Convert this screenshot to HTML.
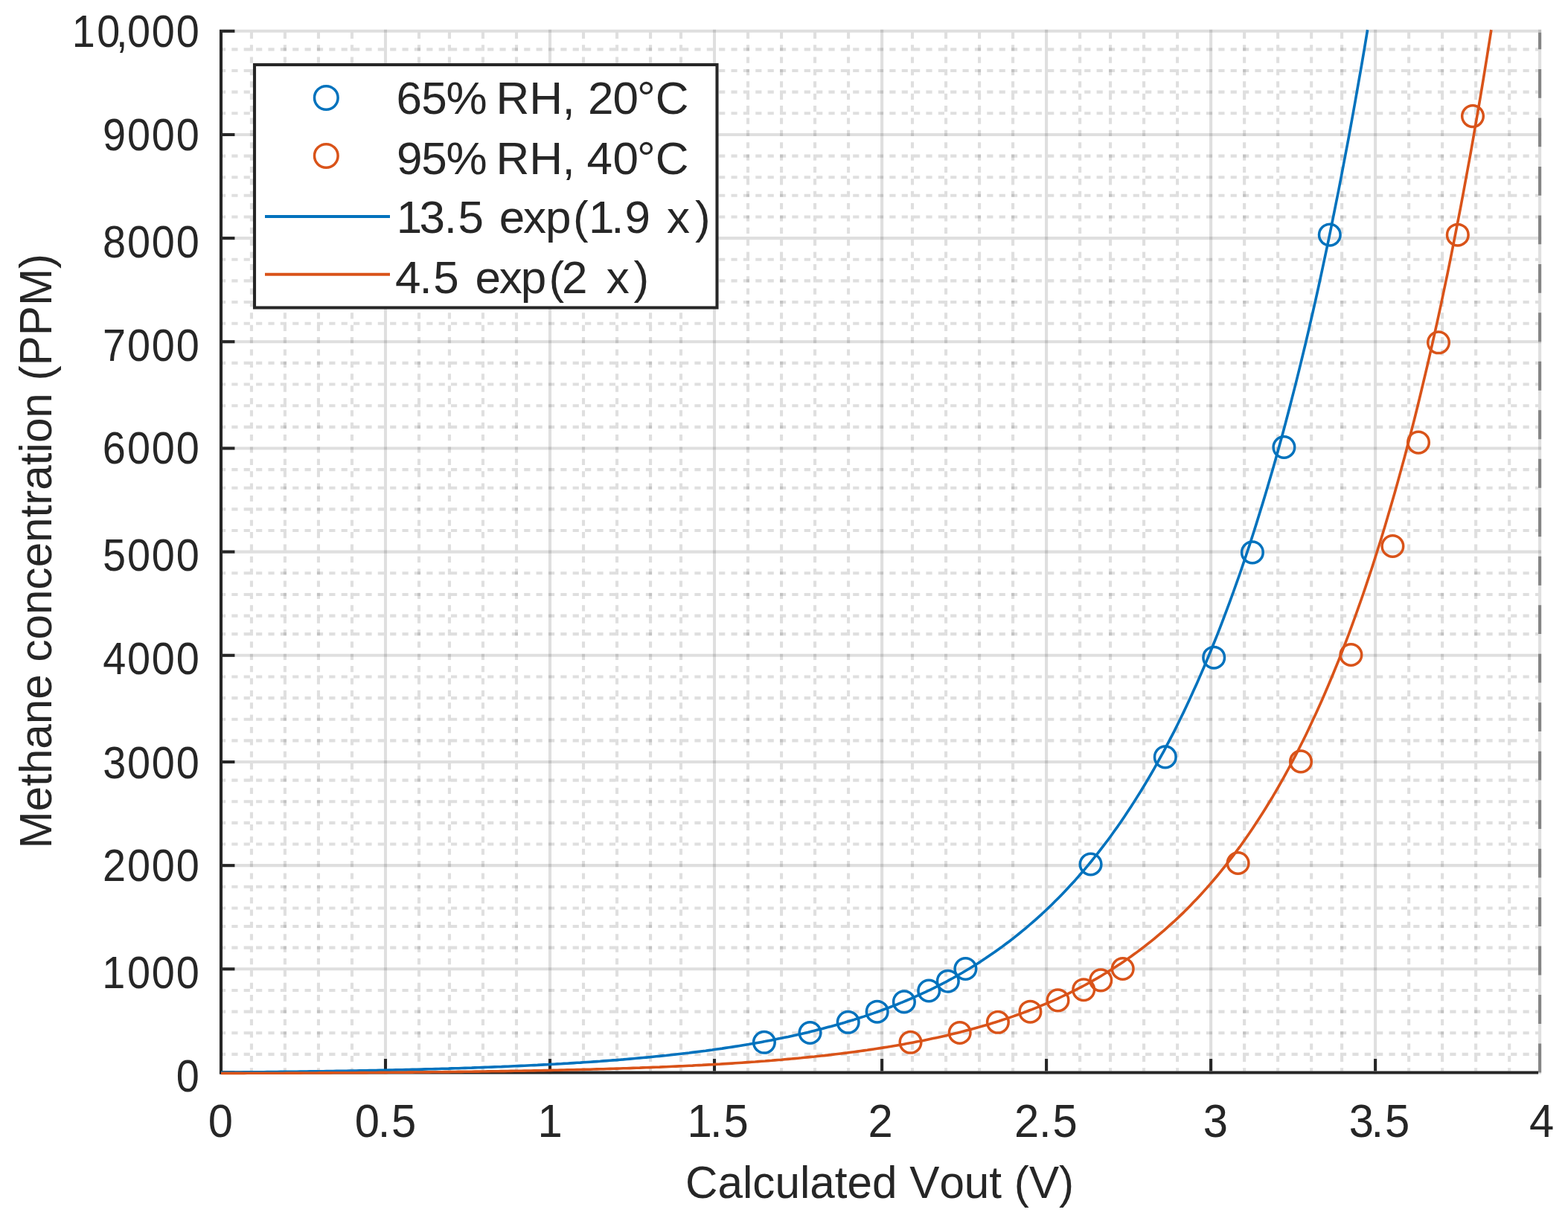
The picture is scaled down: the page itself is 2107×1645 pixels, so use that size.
<!DOCTYPE html>
<html><head><meta charset="utf-8"><title>Methane concentration vs Calculated Vout</title>
<style>html,body{margin:0;padding:0;background:#fff;overflow:hidden}svg{display:block}</style>
</head><body>
<svg width="2107" height="1645" viewBox="0 0 2107 1645">
<rect width="2107" height="1645" fill="#fff"/>
<line x1="337.93" y1="43.85" x2="337.93" y2="1439.42" stroke="rgba(38,38,38,0.15)" stroke-width="4.0926" stroke-dasharray="8.185 8.185"/>
<line x1="382.94" y1="43.85" x2="382.94" y2="1439.42" stroke="rgba(38,38,38,0.15)" stroke-width="4.0926" stroke-dasharray="8.185 8.185"/>
<line x1="427.96" y1="43.85" x2="427.96" y2="1439.42" stroke="rgba(38,38,38,0.15)" stroke-width="4.0926" stroke-dasharray="8.185 8.185"/>
<line x1="472.98" y1="43.85" x2="472.98" y2="1439.42" stroke="rgba(38,38,38,0.15)" stroke-width="4.0926" stroke-dasharray="8.185 8.185"/>
<line x1="563.02" y1="43.85" x2="563.02" y2="1439.42" stroke="rgba(38,38,38,0.15)" stroke-width="4.0926" stroke-dasharray="8.185 8.185"/>
<line x1="603.94" y1="43.85" x2="603.94" y2="1439.42" stroke="rgba(38,38,38,0.15)" stroke-width="4.0926" stroke-dasharray="8.185 8.185"/>
<line x1="648.96" y1="43.85" x2="648.96" y2="1439.42" stroke="rgba(38,38,38,0.15)" stroke-width="4.0926" stroke-dasharray="8.185 8.185"/>
<line x1="693.98" y1="43.85" x2="693.98" y2="1439.42" stroke="rgba(38,38,38,0.15)" stroke-width="4.0926" stroke-dasharray="8.185 8.185"/>
<line x1="784.02" y1="43.85" x2="784.02" y2="1439.42" stroke="rgba(38,38,38,0.15)" stroke-width="4.0926" stroke-dasharray="8.185 8.185"/>
<line x1="829.04" y1="43.85" x2="829.04" y2="1439.42" stroke="rgba(38,38,38,0.15)" stroke-width="4.0926" stroke-dasharray="8.185 8.185"/>
<line x1="874.06" y1="43.85" x2="874.06" y2="1439.42" stroke="rgba(38,38,38,0.15)" stroke-width="4.0926" stroke-dasharray="8.185 8.185"/>
<line x1="914.98" y1="43.85" x2="914.98" y2="1439.42" stroke="rgba(38,38,38,0.15)" stroke-width="4.0926" stroke-dasharray="8.185 8.185"/>
<line x1="1005.02" y1="43.85" x2="1005.02" y2="1439.42" stroke="rgba(38,38,38,0.15)" stroke-width="4.0926" stroke-dasharray="8.185 8.185"/>
<line x1="1050.04" y1="43.85" x2="1050.04" y2="1439.42" stroke="rgba(38,38,38,0.15)" stroke-width="4.0926" stroke-dasharray="8.185 8.185"/>
<line x1="1095.06" y1="43.85" x2="1095.06" y2="1439.42" stroke="rgba(38,38,38,0.15)" stroke-width="4.0926" stroke-dasharray="8.185 8.185"/>
<line x1="1140.08" y1="43.85" x2="1140.08" y2="1439.42" stroke="rgba(38,38,38,0.15)" stroke-width="4.0926" stroke-dasharray="8.185 8.185"/>
<line x1="1226.02" y1="43.85" x2="1226.02" y2="1439.42" stroke="rgba(38,38,38,0.15)" stroke-width="4.0926" stroke-dasharray="8.185 8.185"/>
<line x1="1271.04" y1="43.85" x2="1271.04" y2="1439.42" stroke="rgba(38,38,38,0.15)" stroke-width="4.0926" stroke-dasharray="8.185 8.185"/>
<line x1="1316.06" y1="43.85" x2="1316.06" y2="1439.42" stroke="rgba(38,38,38,0.15)" stroke-width="4.0926" stroke-dasharray="8.185 8.185"/>
<line x1="1361.08" y1="43.85" x2="1361.08" y2="1439.42" stroke="rgba(38,38,38,0.15)" stroke-width="4.0926" stroke-dasharray="8.185 8.185"/>
<line x1="1451.11" y1="43.85" x2="1451.11" y2="1439.42" stroke="rgba(38,38,38,0.15)" stroke-width="4.0926" stroke-dasharray="8.185 8.185"/>
<line x1="1492.04" y1="43.85" x2="1492.04" y2="1439.42" stroke="rgba(38,38,38,0.15)" stroke-width="4.0926" stroke-dasharray="8.185 8.185"/>
<line x1="1537.06" y1="43.85" x2="1537.06" y2="1439.42" stroke="rgba(38,38,38,0.15)" stroke-width="4.0926" stroke-dasharray="8.185 8.185"/>
<line x1="1582.08" y1="43.85" x2="1582.08" y2="1439.42" stroke="rgba(38,38,38,0.15)" stroke-width="4.0926" stroke-dasharray="8.185 8.185"/>
<line x1="1672.11" y1="43.85" x2="1672.11" y2="1439.42" stroke="rgba(38,38,38,0.15)" stroke-width="4.0926" stroke-dasharray="8.185 8.185"/>
<line x1="1717.13" y1="43.85" x2="1717.13" y2="1439.42" stroke="rgba(38,38,38,0.15)" stroke-width="4.0926" stroke-dasharray="8.185 8.185"/>
<line x1="1762.15" y1="43.85" x2="1762.15" y2="1439.42" stroke="rgba(38,38,38,0.15)" stroke-width="4.0926" stroke-dasharray="8.185 8.185"/>
<line x1="1803.08" y1="43.85" x2="1803.08" y2="1439.42" stroke="rgba(38,38,38,0.15)" stroke-width="4.0926" stroke-dasharray="8.185 8.185"/>
<line x1="1893.11" y1="43.85" x2="1893.11" y2="1439.42" stroke="rgba(38,38,38,0.15)" stroke-width="4.0926" stroke-dasharray="8.185 8.185"/>
<line x1="1938.13" y1="43.85" x2="1938.13" y2="1439.42" stroke="rgba(38,38,38,0.15)" stroke-width="4.0926" stroke-dasharray="8.185 8.185"/>
<line x1="1983.15" y1="43.85" x2="1983.15" y2="1439.42" stroke="rgba(38,38,38,0.15)" stroke-width="4.0926" stroke-dasharray="8.185 8.185"/>
<line x1="2028.17" y1="43.85" x2="2028.17" y2="1439.42" stroke="rgba(38,38,38,0.15)" stroke-width="4.0926" stroke-dasharray="8.185 8.185"/>
<line x1="294.95" y1="1416.91" x2="2067.05" y2="1416.91" stroke="rgba(38,38,38,0.15)" stroke-width="4.0926" stroke-dasharray="8.185 8.185"/>
<line x1="294.95" y1="1388.27" x2="2067.05" y2="1388.27" stroke="rgba(38,38,38,0.15)" stroke-width="4.0926" stroke-dasharray="8.185 8.185"/>
<line x1="294.95" y1="1359.62" x2="2067.05" y2="1359.62" stroke="rgba(38,38,38,0.15)" stroke-width="4.0926" stroke-dasharray="8.185 8.185"/>
<line x1="294.95" y1="1330.97" x2="2067.05" y2="1330.97" stroke="rgba(38,38,38,0.15)" stroke-width="4.0926" stroke-dasharray="8.185 8.185"/>
<line x1="294.95" y1="1273.67" x2="2067.05" y2="1273.67" stroke="rgba(38,38,38,0.15)" stroke-width="4.0926" stroke-dasharray="8.185 8.185"/>
<line x1="294.95" y1="1245.02" x2="2067.05" y2="1245.02" stroke="rgba(38,38,38,0.15)" stroke-width="4.0926" stroke-dasharray="8.185 8.185"/>
<line x1="294.95" y1="1220.47" x2="2067.05" y2="1220.47" stroke="rgba(38,38,38,0.15)" stroke-width="4.0926" stroke-dasharray="8.185 8.185"/>
<line x1="294.95" y1="1191.82" x2="2067.05" y2="1191.82" stroke="rgba(38,38,38,0.15)" stroke-width="4.0926" stroke-dasharray="8.185 8.185"/>
<line x1="294.95" y1="1134.52" x2="2067.05" y2="1134.52" stroke="rgba(38,38,38,0.15)" stroke-width="4.0926" stroke-dasharray="8.185 8.185"/>
<line x1="294.95" y1="1105.88" x2="2067.05" y2="1105.88" stroke="rgba(38,38,38,0.15)" stroke-width="4.0926" stroke-dasharray="8.185 8.185"/>
<line x1="294.95" y1="1077.23" x2="2067.05" y2="1077.23" stroke="rgba(38,38,38,0.15)" stroke-width="4.0926" stroke-dasharray="8.185 8.185"/>
<line x1="294.95" y1="1048.58" x2="2067.05" y2="1048.58" stroke="rgba(38,38,38,0.15)" stroke-width="4.0926" stroke-dasharray="8.185 8.185"/>
<line x1="294.95" y1="995.38" x2="2067.05" y2="995.38" stroke="rgba(38,38,38,0.15)" stroke-width="4.0926" stroke-dasharray="8.185 8.185"/>
<line x1="294.95" y1="966.73" x2="2067.05" y2="966.73" stroke="rgba(38,38,38,0.15)" stroke-width="4.0926" stroke-dasharray="8.185 8.185"/>
<line x1="294.95" y1="938.08" x2="2067.05" y2="938.08" stroke="rgba(38,38,38,0.15)" stroke-width="4.0926" stroke-dasharray="8.185 8.185"/>
<line x1="294.95" y1="909.43" x2="2067.05" y2="909.43" stroke="rgba(38,38,38,0.15)" stroke-width="4.0926" stroke-dasharray="8.185 8.185"/>
<line x1="294.95" y1="852.13" x2="2067.05" y2="852.13" stroke="rgba(38,38,38,0.15)" stroke-width="4.0926" stroke-dasharray="8.185 8.185"/>
<line x1="294.95" y1="827.58" x2="2067.05" y2="827.58" stroke="rgba(38,38,38,0.15)" stroke-width="4.0926" stroke-dasharray="8.185 8.185"/>
<line x1="294.95" y1="798.93" x2="2067.05" y2="798.93" stroke="rgba(38,38,38,0.15)" stroke-width="4.0926" stroke-dasharray="8.185 8.185"/>
<line x1="294.95" y1="770.28" x2="2067.05" y2="770.28" stroke="rgba(38,38,38,0.15)" stroke-width="4.0926" stroke-dasharray="8.185 8.185"/>
<line x1="294.95" y1="712.99" x2="2067.05" y2="712.99" stroke="rgba(38,38,38,0.15)" stroke-width="4.0926" stroke-dasharray="8.185 8.185"/>
<line x1="294.95" y1="684.34" x2="2067.05" y2="684.34" stroke="rgba(38,38,38,0.15)" stroke-width="4.0926" stroke-dasharray="8.185 8.185"/>
<line x1="294.95" y1="655.69" x2="2067.05" y2="655.69" stroke="rgba(38,38,38,0.15)" stroke-width="4.0926" stroke-dasharray="8.185 8.185"/>
<line x1="294.95" y1="631.13" x2="2067.05" y2="631.13" stroke="rgba(38,38,38,0.15)" stroke-width="4.0926" stroke-dasharray="8.185 8.185"/>
<line x1="294.95" y1="573.84" x2="2067.05" y2="573.84" stroke="rgba(38,38,38,0.15)" stroke-width="4.0926" stroke-dasharray="8.185 8.185"/>
<line x1="294.95" y1="545.19" x2="2067.05" y2="545.19" stroke="rgba(38,38,38,0.15)" stroke-width="4.0926" stroke-dasharray="8.185 8.185"/>
<line x1="294.95" y1="516.54" x2="2067.05" y2="516.54" stroke="rgba(38,38,38,0.15)" stroke-width="4.0926" stroke-dasharray="8.185 8.185"/>
<line x1="294.95" y1="487.89" x2="2067.05" y2="487.89" stroke="rgba(38,38,38,0.15)" stroke-width="4.0926" stroke-dasharray="8.185 8.185"/>
<line x1="294.95" y1="434.69" x2="2067.05" y2="434.69" stroke="rgba(38,38,38,0.15)" stroke-width="4.0926" stroke-dasharray="8.185 8.185"/>
<line x1="294.95" y1="406.04" x2="2067.05" y2="406.04" stroke="rgba(38,38,38,0.15)" stroke-width="4.0926" stroke-dasharray="8.185 8.185"/>
<line x1="294.95" y1="377.39" x2="2067.05" y2="377.39" stroke="rgba(38,38,38,0.15)" stroke-width="4.0926" stroke-dasharray="8.185 8.185"/>
<line x1="294.95" y1="348.75" x2="2067.05" y2="348.75" stroke="rgba(38,38,38,0.15)" stroke-width="4.0926" stroke-dasharray="8.185 8.185"/>
<line x1="294.95" y1="291.45" x2="2067.05" y2="291.45" stroke="rgba(38,38,38,0.15)" stroke-width="4.0926" stroke-dasharray="8.185 8.185"/>
<line x1="294.95" y1="262.80" x2="2067.05" y2="262.80" stroke="rgba(38,38,38,0.15)" stroke-width="4.0926" stroke-dasharray="8.185 8.185"/>
<line x1="294.95" y1="238.24" x2="2067.05" y2="238.24" stroke="rgba(38,38,38,0.15)" stroke-width="4.0926" stroke-dasharray="8.185 8.185"/>
<line x1="294.95" y1="209.60" x2="2067.05" y2="209.60" stroke="rgba(38,38,38,0.15)" stroke-width="4.0926" stroke-dasharray="8.185 8.185"/>
<line x1="294.95" y1="152.30" x2="2067.05" y2="152.30" stroke="rgba(38,38,38,0.15)" stroke-width="4.0926" stroke-dasharray="8.185 8.185"/>
<line x1="294.95" y1="123.65" x2="2067.05" y2="123.65" stroke="rgba(38,38,38,0.15)" stroke-width="4.0926" stroke-dasharray="8.185 8.185"/>
<line x1="294.95" y1="95.00" x2="2067.05" y2="95.00" stroke="rgba(38,38,38,0.15)" stroke-width="4.0926" stroke-dasharray="8.185 8.185"/>
<line x1="294.95" y1="66.36" x2="2067.05" y2="66.36" stroke="rgba(38,38,38,0.15)" stroke-width="4.0926" stroke-dasharray="8.185 8.185"/>
<line x1="518.00" y1="1443.52" x2="518.00" y2="39.75" stroke="rgba(38,38,38,0.15)" stroke-width="4.0926"/>
<line x1="739.00" y1="1443.52" x2="739.00" y2="39.75" stroke="rgba(38,38,38,0.15)" stroke-width="4.0926"/>
<line x1="960.00" y1="1443.52" x2="960.00" y2="39.75" stroke="rgba(38,38,38,0.15)" stroke-width="4.0926"/>
<line x1="1185.09" y1="1443.52" x2="1185.09" y2="39.75" stroke="rgba(38,38,38,0.15)" stroke-width="4.0926"/>
<line x1="1406.09" y1="1443.52" x2="1406.09" y2="39.75" stroke="rgba(38,38,38,0.15)" stroke-width="4.0926"/>
<line x1="1627.10" y1="1443.52" x2="1627.10" y2="39.75" stroke="rgba(38,38,38,0.15)" stroke-width="4.0926"/>
<line x1="1848.10" y1="1443.52" x2="1848.10" y2="39.75" stroke="rgba(38,38,38,0.15)" stroke-width="4.0926"/>
<line x1="2069.10" y1="1443.52" x2="2069.10" y2="39.75" stroke="rgba(38,38,38,0.15)" stroke-width="4.0926"/>
<line x1="299.05" y1="1302.32" x2="2071.14" y2="1302.32" stroke="rgba(38,38,38,0.15)" stroke-width="4.0926"/>
<line x1="299.05" y1="1163.17" x2="2071.14" y2="1163.17" stroke="rgba(38,38,38,0.15)" stroke-width="4.0926"/>
<line x1="299.05" y1="1024.02" x2="2071.14" y2="1024.02" stroke="rgba(38,38,38,0.15)" stroke-width="4.0926"/>
<line x1="299.05" y1="880.78" x2="2071.14" y2="880.78" stroke="rgba(38,38,38,0.15)" stroke-width="4.0926"/>
<line x1="299.05" y1="741.63" x2="2071.14" y2="741.63" stroke="rgba(38,38,38,0.15)" stroke-width="4.0926"/>
<line x1="299.05" y1="602.49" x2="2071.14" y2="602.49" stroke="rgba(38,38,38,0.15)" stroke-width="4.0926"/>
<line x1="299.05" y1="459.25" x2="2071.14" y2="459.25" stroke="rgba(38,38,38,0.15)" stroke-width="4.0926"/>
<line x1="299.05" y1="320.10" x2="2071.14" y2="320.10" stroke="rgba(38,38,38,0.15)" stroke-width="4.0926"/>
<line x1="299.05" y1="180.95" x2="2071.14" y2="180.95" stroke="rgba(38,38,38,0.15)" stroke-width="4.0926"/>
<line x1="299.05" y1="41.80" x2="2071.14" y2="41.80" stroke="rgba(38,38,38,0.15)" stroke-width="4.0926"/>
<line x1="2069.10" y1="43.85" x2="2069.10" y2="1443.52" stroke="#858585" stroke-width="4.0926" stroke-dasharray="38.88 26.60" stroke-dashoffset="16.37"/>
<line x1="297.00" y1="39.75" x2="297.00" y2="1443.52" stroke="#262626" stroke-width="4.0926"/>
<line x1="294.95" y1="1441.47" x2="2067.05" y2="1441.47" stroke="#262626" stroke-width="4.0926"/>
<line x1="299.05" y1="1441.47" x2="315.42" y2="1441.47" stroke="#262626" stroke-width="4.0926"/>
<line x1="299.05" y1="1302.32" x2="315.42" y2="1302.32" stroke="#262626" stroke-width="4.0926"/>
<line x1="299.05" y1="1163.17" x2="315.42" y2="1163.17" stroke="#262626" stroke-width="4.0926"/>
<line x1="299.05" y1="1024.02" x2="315.42" y2="1024.02" stroke="#262626" stroke-width="4.0926"/>
<line x1="299.05" y1="880.78" x2="315.42" y2="880.78" stroke="#262626" stroke-width="4.0926"/>
<line x1="299.05" y1="741.63" x2="315.42" y2="741.63" stroke="#262626" stroke-width="4.0926"/>
<line x1="299.05" y1="602.49" x2="315.42" y2="602.49" stroke="#262626" stroke-width="4.0926"/>
<line x1="299.05" y1="459.25" x2="315.42" y2="459.25" stroke="#262626" stroke-width="4.0926"/>
<line x1="299.05" y1="320.10" x2="315.42" y2="320.10" stroke="#262626" stroke-width="4.0926"/>
<line x1="299.05" y1="180.95" x2="315.42" y2="180.95" stroke="#262626" stroke-width="4.0926"/>
<line x1="299.05" y1="41.80" x2="315.42" y2="41.80" stroke="#262626" stroke-width="4.0926"/>
<line x1="518.00" y1="1439.42" x2="518.00" y2="1423.05" stroke="#262626" stroke-width="4.0926"/>
<line x1="739.00" y1="1439.42" x2="739.00" y2="1423.05" stroke="#262626" stroke-width="4.0926"/>
<line x1="960.00" y1="1439.42" x2="960.00" y2="1423.05" stroke="#262626" stroke-width="4.0926"/>
<line x1="1185.09" y1="1439.42" x2="1185.09" y2="1423.05" stroke="#262626" stroke-width="4.0926"/>
<line x1="1406.09" y1="1439.42" x2="1406.09" y2="1423.05" stroke="#262626" stroke-width="4.0926"/>
<line x1="1627.10" y1="1439.42" x2="1627.10" y2="1423.05" stroke="#262626" stroke-width="4.0926"/>
<line x1="1848.10" y1="1439.42" x2="1848.10" y2="1423.05" stroke="#262626" stroke-width="4.0926"/>
<circle cx="1026.9" cy="1400.8" r="14.3" fill="none" stroke="#0072BD" stroke-width="3.5"/>
<circle cx="1088.5" cy="1388" r="14.3" fill="none" stroke="#0072BD" stroke-width="3.5"/>
<circle cx="1139.7" cy="1373.8" r="14.3" fill="none" stroke="#0072BD" stroke-width="3.5"/>
<circle cx="1178.7" cy="1359.7" r="14.3" fill="none" stroke="#0072BD" stroke-width="3.5"/>
<circle cx="1214.9" cy="1346.4" r="14.3" fill="none" stroke="#0072BD" stroke-width="3.5"/>
<circle cx="1248.2" cy="1331.5" r="14.3" fill="none" stroke="#0072BD" stroke-width="3.5"/>
<circle cx="1273.8" cy="1318.7" r="14.3" fill="none" stroke="#0072BD" stroke-width="3.5"/>
<circle cx="1297.4" cy="1302" r="14.3" fill="none" stroke="#0072BD" stroke-width="3.5"/>
<circle cx="1465.6" cy="1161.5" r="14.3" fill="none" stroke="#0072BD" stroke-width="3.5"/>
<circle cx="1565.8" cy="1017.4" r="14.3" fill="none" stroke="#0072BD" stroke-width="3.5"/>
<circle cx="1631.2" cy="883.7" r="14.3" fill="none" stroke="#0072BD" stroke-width="3.5"/>
<circle cx="1682.9" cy="742.4" r="14.3" fill="none" stroke="#0072BD" stroke-width="3.5"/>
<circle cx="1725.4" cy="601" r="14.3" fill="none" stroke="#0072BD" stroke-width="3.5"/>
<circle cx="1786.8" cy="315.6" r="14.3" fill="none" stroke="#0072BD" stroke-width="3.5"/>
<circle cx="1223.5" cy="1400.8" r="14.3" fill="none" stroke="#D95319" stroke-width="3.5"/>
<circle cx="1289.7" cy="1388" r="14.3" fill="none" stroke="#D95319" stroke-width="3.5"/>
<circle cx="1340.9" cy="1373.8" r="14.3" fill="none" stroke="#D95319" stroke-width="3.5"/>
<circle cx="1384.4" cy="1359.7" r="14.3" fill="none" stroke="#D95319" stroke-width="3.5"/>
<circle cx="1421.5" cy="1344.4" r="14.3" fill="none" stroke="#D95319" stroke-width="3.5"/>
<circle cx="1456.2" cy="1330.2" r="14.3" fill="none" stroke="#D95319" stroke-width="3.5"/>
<circle cx="1479.2" cy="1317.4" r="14.3" fill="none" stroke="#D95319" stroke-width="3.5"/>
<circle cx="1508.7" cy="1302" r="14.3" fill="none" stroke="#D95319" stroke-width="3.5"/>
<circle cx="1663.6" cy="1160" r="14.3" fill="none" stroke="#D95319" stroke-width="3.5"/>
<circle cx="1748" cy="1023.4" r="14.3" fill="none" stroke="#D95319" stroke-width="3.5"/>
<circle cx="1815.4" cy="880" r="14.3" fill="none" stroke="#D95319" stroke-width="3.5"/>
<circle cx="1871.4" cy="734" r="14.3" fill="none" stroke="#D95319" stroke-width="3.5"/>
<circle cx="1906" cy="594.6" r="14.3" fill="none" stroke="#D95319" stroke-width="3.5"/>
<circle cx="1933" cy="460.3" r="14.3" fill="none" stroke="#D95319" stroke-width="3.5"/>
<circle cx="1958.8" cy="315.7" r="14.3" fill="none" stroke="#D95319" stroke-width="3.5"/>
<circle cx="1979" cy="156.1" r="14.3" fill="none" stroke="#D95319" stroke-width="3.5"/>
<path d="M297.0,1441.2 L301.4,1441.2 L305.9,1441.1 L310.3,1441.1 L314.7,1441.0 L319.1,1441.0 L323.6,1441.0 L328.0,1440.9 L332.4,1440.9 L336.9,1440.8 L341.3,1440.8 L345.7,1440.8 L350.2,1440.7 L354.6,1440.7 L359.0,1440.6 L363.4,1440.6 L367.9,1440.5 L372.3,1440.5 L376.7,1440.4 L381.2,1440.4 L385.6,1440.3 L390.0,1440.3 L394.5,1440.2 L398.9,1440.2 L403.3,1440.1 L407.8,1440.0 L412.2,1440.0 L416.6,1439.9 L421.0,1439.9 L425.5,1439.8 L429.9,1439.7 L434.3,1439.7 L438.8,1439.6 L443.2,1439.5 L447.6,1439.5 L452.1,1439.4 L456.5,1439.3 L460.9,1439.3 L465.3,1439.2 L469.8,1439.1 L474.2,1439.0 L478.6,1439.0 L483.1,1438.9 L487.5,1438.8 L491.9,1438.7 L496.4,1438.6 L500.8,1438.6 L505.2,1438.5 L509.6,1438.4 L514.1,1438.3 L518.5,1438.2 L522.9,1438.1 L527.4,1438.0 L531.8,1437.9 L536.2,1437.8 L540.7,1437.7 L545.1,1437.6 L549.5,1437.5 L553.9,1437.4 L558.4,1437.3 L562.8,1437.2 L567.2,1437.1 L571.7,1436.9 L576.1,1436.8 L580.5,1436.7 L585.0,1436.6 L589.4,1436.5 L593.8,1436.3 L598.2,1436.2 L602.7,1436.1 L607.1,1435.9 L611.5,1435.8 L616.0,1435.7 L620.4,1435.5 L624.8,1435.4 L629.3,1435.2 L633.7,1435.1 L638.1,1434.9 L642.5,1434.8 L647.0,1434.6 L651.4,1434.4 L655.8,1434.3 L660.3,1434.1 L664.7,1433.9 L669.1,1433.7 L673.6,1433.6 L678.0,1433.4 L682.4,1433.2 L686.8,1433.0 L691.3,1432.8 L695.7,1432.6 L700.1,1432.4 L704.6,1432.2 L709.0,1432.0 L713.4,1431.8 L717.9,1431.6 L722.3,1431.4 L726.7,1431.1 L731.1,1430.9 L735.6,1430.7 L740.0,1430.4 L744.4,1430.2 L748.9,1429.9 L753.3,1429.7 L757.7,1429.4 L762.2,1429.2 L766.6,1428.9 L771.0,1428.6 L775.4,1428.3 L779.9,1428.1 L784.3,1427.8 L788.7,1427.5 L793.2,1427.2 L797.6,1426.9 L802.0,1426.6 L806.5,1426.3 L810.9,1425.9 L815.3,1425.6 L819.7,1425.3 L824.2,1424.9 L828.6,1424.6 L833.0,1424.2 L837.5,1423.9 L841.9,1423.5 L846.3,1423.1 L850.8,1422.7 L855.2,1422.3 L859.6,1421.9 L864.0,1421.5 L868.5,1421.1 L872.9,1420.7 L877.3,1420.3 L881.8,1419.8 L886.2,1419.4 L890.6,1418.9 L895.1,1418.5 L899.5,1418.0 L903.9,1417.5 L908.3,1417.0 L912.8,1416.5 L917.2,1416.0 L921.6,1415.5 L926.1,1415.0 L930.5,1414.4 L934.9,1413.9 L939.4,1413.3 L943.8,1412.7 L948.2,1412.2 L952.6,1411.6 L957.1,1411.0 L961.5,1410.3 L965.9,1409.7 L970.4,1409.1 L974.8,1408.4 L979.2,1407.8 L983.7,1407.1 L988.1,1406.4 L992.5,1405.7 L996.9,1405.0 L1001.4,1404.2 L1005.8,1403.5 L1010.2,1402.7 L1014.7,1402.0 L1019.1,1401.2 L1023.5,1400.4 L1028.0,1399.6 L1032.4,1398.7 L1036.8,1397.9 L1041.2,1397.0 L1045.7,1396.1 L1050.1,1395.2 L1054.5,1394.3 L1059.0,1393.4 L1063.4,1392.4 L1067.8,1391.4 L1072.3,1390.4 L1076.7,1389.4 L1081.1,1388.4 L1085.5,1387.4 L1090.0,1386.3 L1094.4,1385.2 L1098.8,1384.1 L1103.3,1383.0 L1107.7,1381.8 L1112.1,1380.6 L1116.6,1379.4 L1121.0,1378.2 L1125.4,1377.0 L1129.8,1375.7 L1134.3,1374.4 L1138.7,1373.1 L1143.1,1371.7 L1147.6,1370.4 L1152.0,1369.0 L1156.4,1367.5 L1160.9,1366.1 L1165.3,1364.6 L1169.7,1363.1 L1174.1,1361.6 L1178.6,1360.0 L1183.0,1358.4 L1187.4,1356.8 L1191.9,1355.1 L1196.3,1353.5 L1200.7,1351.7 L1205.2,1350.0 L1209.6,1348.2 L1214.0,1346.4 L1218.4,1344.5 L1222.9,1342.6 L1227.3,1340.7 L1231.7,1338.7 L1236.2,1336.7 L1240.6,1334.7 L1245.0,1332.6 L1249.4,1330.5 L1253.9,1328.3 L1258.3,1326.1 L1262.7,1323.9 L1267.2,1321.6 L1271.6,1319.3 L1276.0,1316.9 L1280.5,1314.5 L1284.9,1312.0 L1289.3,1309.5 L1293.7,1307.0 L1298.2,1304.3 L1302.6,1301.7 L1307.0,1299.0 L1311.5,1296.2 L1315.9,1293.4 L1320.3,1290.5 L1324.8,1287.6 L1329.2,1284.6 L1333.6,1281.6 L1338.0,1278.5 L1342.5,1275.3 L1346.9,1272.1 L1351.3,1268.8 L1355.8,1265.5 L1360.2,1262.1 L1364.6,1258.6 L1369.1,1255.0 L1373.5,1251.4 L1377.9,1247.8 L1382.3,1244.0 L1386.8,1240.2 L1391.2,1236.3 L1395.6,1232.3 L1400.1,1228.3 L1404.5,1224.2 L1408.9,1220.0 L1413.4,1215.7 L1417.8,1211.3 L1422.2,1206.9 L1426.6,1202.4 L1431.1,1197.7 L1435.5,1193.0 L1439.9,1188.2 L1444.4,1183.4 L1448.8,1178.4 L1453.2,1173.3 L1457.7,1168.1 L1462.1,1162.8 L1466.5,1157.5 L1470.9,1152.0 L1475.4,1146.4 L1479.8,1140.7 L1484.2,1134.9 L1488.7,1129.0 L1493.1,1123.0 L1497.5,1116.8 L1502.0,1110.6 L1506.4,1104.2 L1510.8,1097.7 L1515.2,1091.1 L1519.7,1084.3 L1524.1,1077.4 L1528.5,1070.4 L1533.0,1063.3 L1537.4,1056.0 L1541.8,1048.6 L1546.3,1041.0 L1550.7,1033.3 L1555.1,1025.4 L1559.5,1017.4 L1564.0,1009.3 L1568.4,1000.9 L1572.8,992.4 L1577.3,983.8 L1581.7,975.0 L1586.1,966.0 L1590.6,956.9 L1595.0,947.5 L1599.4,938.0 L1603.8,928.3 L1608.3,918.5 L1612.7,908.4 L1617.1,898.2 L1621.6,887.7 L1626.0,877.0 L1630.4,866.2 L1634.9,855.1 L1639.3,843.8 L1643.7,832.3 L1648.1,820.6 L1652.6,808.7 L1657.0,796.5 L1661.4,784.1 L1665.9,771.5 L1670.3,758.6 L1674.7,745.5 L1679.2,732.1 L1683.6,718.5 L1688.0,704.6 L1692.4,690.4 L1696.9,675.9 L1701.3,661.2 L1705.7,646.2 L1710.2,630.9 L1714.6,615.4 L1719.0,599.5 L1723.5,583.3 L1727.9,566.8 L1732.3,550.0 L1736.7,532.9 L1741.2,515.4 L1745.6,497.6 L1750.0,479.5 L1754.5,461.0 L1758.9,442.2 L1763.3,423.0 L1767.8,403.4 L1772.2,383.5 L1776.6,363.1 L1781.0,342.4 L1785.5,321.3 L1789.9,299.8 L1794.3,277.9 L1798.8,255.5 L1803.2,232.7 L1807.6,209.5 L1812.1,185.8 L1816.5,161.7 L1820.9,137.2 L1825.3,112.1 L1829.8,86.6 L1834.2,60.6 L1837.6,40.1" fill="none" stroke="#0072BD" stroke-width="3.6" stroke-linejoin="round"/>
<path d="M297.0,1442.5 L301.4,1442.4 L305.9,1442.4 L310.3,1442.4 L314.7,1442.4 L319.1,1442.4 L323.6,1442.4 L328.0,1442.4 L332.4,1442.3 L336.9,1442.3 L341.3,1442.3 L345.7,1442.3 L350.2,1442.3 L354.6,1442.3 L359.0,1442.3 L363.4,1442.2 L367.9,1442.2 L372.3,1442.2 L376.7,1442.2 L381.2,1442.2 L385.6,1442.1 L390.0,1442.1 L394.5,1442.1 L398.9,1442.1 L403.3,1442.1 L407.8,1442.0 L412.2,1442.0 L416.6,1442.0 L421.0,1442.0 L425.5,1442.0 L429.9,1441.9 L434.3,1441.9 L438.8,1441.9 L443.2,1441.9 L447.6,1441.8 L452.1,1441.8 L456.5,1441.8 L460.9,1441.8 L465.3,1441.7 L469.8,1441.7 L474.2,1441.7 L478.6,1441.7 L483.1,1441.6 L487.5,1441.6 L491.9,1441.6 L496.4,1441.5 L500.8,1441.5 L505.2,1441.5 L509.6,1441.4 L514.1,1441.4 L518.5,1441.4 L522.9,1441.3 L527.4,1441.3 L531.8,1441.3 L536.2,1441.2 L540.7,1441.2 L545.1,1441.2 L549.5,1441.1 L553.9,1441.1 L558.4,1441.0 L562.8,1441.0 L567.2,1441.0 L571.7,1440.9 L576.1,1440.9 L580.5,1440.8 L585.0,1440.8 L589.4,1440.7 L593.8,1440.7 L598.2,1440.6 L602.7,1440.6 L607.1,1440.5 L611.5,1440.5 L616.0,1440.4 L620.4,1440.4 L624.8,1440.3 L629.3,1440.3 L633.7,1440.2 L638.1,1440.1 L642.5,1440.1 L647.0,1440.0 L651.4,1440.0 L655.8,1439.9 L660.3,1439.8 L664.7,1439.8 L669.1,1439.7 L673.6,1439.6 L678.0,1439.6 L682.4,1439.5 L686.8,1439.4 L691.3,1439.3 L695.7,1439.3 L700.1,1439.2 L704.6,1439.1 L709.0,1439.0 L713.4,1439.0 L717.9,1438.9 L722.3,1438.8 L726.7,1438.7 L731.1,1438.6 L735.6,1438.5 L740.0,1438.4 L744.4,1438.3 L748.9,1438.2 L753.3,1438.1 L757.7,1438.0 L762.2,1437.9 L766.6,1437.8 L771.0,1437.7 L775.4,1437.6 L779.9,1437.5 L784.3,1437.4 L788.7,1437.3 L793.2,1437.2 L797.6,1437.0 L802.0,1436.9 L806.5,1436.8 L810.9,1436.7 L815.3,1436.5 L819.7,1436.4 L824.2,1436.3 L828.6,1436.1 L833.0,1436.0 L837.5,1435.8 L841.9,1435.7 L846.3,1435.6 L850.8,1435.4 L855.2,1435.2 L859.6,1435.1 L864.0,1434.9 L868.5,1434.8 L872.9,1434.6 L877.3,1434.4 L881.8,1434.2 L886.2,1434.1 L890.6,1433.9 L895.1,1433.7 L899.5,1433.5 L903.9,1433.3 L908.3,1433.1 L912.8,1432.9 L917.2,1432.7 L921.6,1432.5 L926.1,1432.3 L930.5,1432.1 L934.9,1431.8 L939.4,1431.6 L943.8,1431.4 L948.2,1431.1 L952.6,1430.9 L957.1,1430.7 L961.5,1430.4 L965.9,1430.2 L970.4,1429.9 L974.8,1429.6 L979.2,1429.4 L983.7,1429.1 L988.1,1428.8 L992.5,1428.5 L996.9,1428.2 L1001.4,1427.9 L1005.8,1427.6 L1010.2,1427.3 L1014.7,1427.0 L1019.1,1426.6 L1023.5,1426.3 L1028.0,1426.0 L1032.4,1425.6 L1036.8,1425.3 L1041.2,1424.9 L1045.7,1424.5 L1050.1,1424.2 L1054.5,1423.8 L1059.0,1423.4 L1063.4,1423.0 L1067.8,1422.6 L1072.3,1422.2 L1076.7,1421.8 L1081.1,1421.3 L1085.5,1420.9 L1090.0,1420.4 L1094.4,1420.0 L1098.8,1419.5 L1103.3,1419.0 L1107.7,1418.6 L1112.1,1418.1 L1116.6,1417.6 L1121.0,1417.0 L1125.4,1416.5 L1129.8,1416.0 L1134.3,1415.4 L1138.7,1414.9 L1143.1,1414.3 L1147.6,1413.7 L1152.0,1413.1 L1156.4,1412.5 L1160.9,1411.9 L1165.3,1411.3 L1169.7,1410.6 L1174.1,1410.0 L1178.6,1409.3 L1183.0,1408.6 L1187.4,1407.9 L1191.9,1407.2 L1196.3,1406.5 L1200.7,1405.8 L1205.2,1405.0 L1209.6,1404.2 L1214.0,1403.4 L1218.4,1402.6 L1222.9,1401.8 L1227.3,1401.0 L1231.7,1400.1 L1236.2,1399.3 L1240.6,1398.4 L1245.0,1397.5 L1249.4,1396.6 L1253.9,1395.6 L1258.3,1394.7 L1262.7,1393.7 L1267.2,1392.7 L1271.6,1391.7 L1276.0,1390.6 L1280.5,1389.6 L1284.9,1388.5 L1289.3,1387.4 L1293.7,1386.3 L1298.2,1385.1 L1302.6,1383.9 L1307.0,1382.7 L1311.5,1381.5 L1315.9,1380.3 L1320.3,1379.0 L1324.8,1377.7 L1329.2,1376.4 L1333.6,1375.1 L1338.0,1373.7 L1342.5,1372.3 L1346.9,1370.8 L1351.3,1369.4 L1355.8,1367.9 L1360.2,1366.4 L1364.6,1364.8 L1369.1,1363.2 L1373.5,1361.6 L1377.9,1360.0 L1382.3,1358.3 L1386.8,1356.6 L1391.2,1354.8 L1395.6,1353.1 L1400.1,1351.2 L1404.5,1349.4 L1408.9,1347.5 L1413.4,1345.6 L1417.8,1343.6 L1422.2,1341.6 L1426.6,1339.5 L1431.1,1337.4 L1435.5,1335.3 L1439.9,1333.1 L1444.4,1330.9 L1448.8,1328.6 L1453.2,1326.3 L1457.7,1324.0 L1462.1,1321.6 L1466.5,1319.1 L1470.9,1316.6 L1475.4,1314.1 L1479.8,1311.5 L1484.2,1308.8 L1488.7,1306.1 L1493.1,1303.3 L1497.5,1300.5 L1502.0,1297.6 L1506.4,1294.7 L1510.8,1291.7 L1515.2,1288.6 L1519.7,1285.5 L1524.1,1282.3 L1528.5,1279.1 L1533.0,1275.7 L1537.4,1272.4 L1541.8,1268.9 L1546.3,1265.4 L1550.7,1261.8 L1555.1,1258.1 L1559.5,1254.4 L1564.0,1250.6 L1568.4,1246.7 L1572.8,1242.7 L1577.3,1238.7 L1581.7,1234.6 L1586.1,1230.4 L1590.6,1226.1 L1595.0,1221.7 L1599.4,1217.2 L1603.8,1212.6 L1608.3,1208.0 L1612.7,1203.2 L1617.1,1198.4 L1621.6,1193.4 L1626.0,1188.4 L1630.4,1183.3 L1634.9,1178.0 L1639.3,1172.6 L1643.7,1167.2 L1648.1,1161.6 L1652.6,1155.9 L1657.0,1150.1 L1661.4,1144.2 L1665.9,1138.2 L1670.3,1132.0 L1674.7,1125.7 L1679.2,1119.3 L1683.6,1112.8 L1688.0,1106.1 L1692.4,1099.3 L1696.9,1092.3 L1701.3,1085.3 L1705.7,1078.0 L1710.2,1070.7 L1714.6,1063.1 L1719.0,1055.5 L1723.5,1047.6 L1727.9,1039.6 L1732.3,1031.5 L1736.7,1023.2 L1741.2,1014.7 L1745.6,1006.0 L1750.0,997.2 L1754.5,988.2 L1758.9,979.0 L1763.3,969.6 L1767.8,960.1 L1772.2,950.3 L1776.6,940.4 L1781.0,930.2 L1785.5,919.8 L1789.9,909.3 L1794.3,898.5 L1798.8,887.5 L1803.2,876.3 L1807.6,864.8 L1812.1,853.1 L1816.5,841.2 L1820.9,829.0 L1825.3,816.6 L1829.8,804.0 L1834.2,791.1 L1838.6,777.9 L1843.1,764.5 L1847.5,750.8 L1851.9,736.8 L1856.4,722.5 L1860.8,707.9 L1865.2,693.1 L1869.6,677.9 L1874.1,662.5 L1878.5,646.7 L1882.9,630.6 L1887.4,614.2 L1891.8,597.5 L1896.2,580.4 L1900.7,563.0 L1905.1,545.2 L1909.5,527.0 L1913.9,508.5 L1918.4,489.7 L1922.8,470.4 L1927.2,450.8 L1931.7,430.7 L1936.1,410.3 L1940.5,389.4 L1945.0,368.1 L1949.4,346.4 L1953.8,324.2 L1958.2,301.6 L1962.7,278.6 L1967.1,255.0 L1971.5,231.0 L1976.0,206.6 L1980.4,181.6 L1984.8,156.1 L1989.3,130.1 L1993.7,103.6 L1998.1,76.5 L2002.5,48.9 L2003.9,40.1" fill="none" stroke="#D95319" stroke-width="3.6" stroke-linejoin="round"/>
<text transform="scale(0.9640,1)" x="290.21" y="1528.00" font-size="62" font-family="Liberation Sans, Arial, Helvetica, sans-serif" fill="#262626" style="font-kerning:none">0</text>
<text transform="scale(0.9640,1)" x="494.67 526.66 545.55" y="1528.00" font-size="62" font-family="Liberation Sans, Arial, Helvetica, sans-serif" fill="#262626" style="font-kerning:none">0.5</text>
<text transform="scale(0.9640,1)" x="749.43" y="1528.00" font-size="62" font-family="Liberation Sans, Arial, Helvetica, sans-serif" fill="#262626" style="font-kerning:none">1</text>
<text transform="scale(0.9640,1)" x="957.93 989.62 1008.72" y="1528.00" font-size="62" font-family="Liberation Sans, Arial, Helvetica, sans-serif" fill="#262626" style="font-kerning:none">1.5</text>
<text transform="scale(0.9640,1)" x="1210.06" y="1528.00" font-size="62" font-family="Liberation Sans, Arial, Helvetica, sans-serif" fill="#262626" style="font-kerning:none">2</text>
<text transform="scale(0.9640,1)" x="1413.89 1448.23 1467.33" y="1528.00" font-size="62" font-family="Liberation Sans, Arial, Helvetica, sans-serif" fill="#262626" style="font-kerning:none">2.5</text>
<text transform="scale(0.9640,1)" x="1677.10" y="1528.00" font-size="62" font-family="Liberation Sans, Arial, Helvetica, sans-serif" fill="#262626" style="font-kerning:none">3</text>
<text transform="scale(0.9640,1)" x="1880.42 1911.41 1930.51" y="1528.00" font-size="62" font-family="Liberation Sans, Arial, Helvetica, sans-serif" fill="#262626" style="font-kerning:none">3.5</text>
<text transform="scale(0.9640,1)" x="2131.88" y="1528.00" font-size="62" font-family="Liberation Sans, Arial, Helvetica, sans-serif" fill="#262626" style="font-kerning:none">4</text>
<text transform="scale(0.9000,1)" x="263.08" y="1467.10" font-size="62" font-family="Liberation Sans, Arial, Helvetica, sans-serif" fill="#262626" style="font-kerning:none">0</text>
<text transform="scale(0.9000,1)" x="152.56 189.97 226.52 263.08" y="1328.20" font-size="62" font-family="Liberation Sans, Arial, Helvetica, sans-serif" fill="#262626" style="font-kerning:none">1000</text>
<text transform="scale(0.9000,1)" x="153.41 189.97 226.52 263.08" y="1184.30" font-size="62" font-family="Liberation Sans, Arial, Helvetica, sans-serif" fill="#262626" style="font-kerning:none">2000</text>
<text transform="scale(0.9000,1)" x="153.59 189.97 226.52 263.08" y="1045.90" font-size="62" font-family="Liberation Sans, Arial, Helvetica, sans-serif" fill="#262626" style="font-kerning:none">3000</text>
<text transform="scale(0.9000,1)" x="153.61 189.97 226.52 263.08" y="906.40" font-size="62" font-family="Liberation Sans, Arial, Helvetica, sans-serif" fill="#262626" style="font-kerning:none">4000</text>
<text transform="scale(0.9000,1)" x="153.47 189.97 226.52 263.08" y="766.90" font-size="62" font-family="Liberation Sans, Arial, Helvetica, sans-serif" fill="#262626" style="font-kerning:none">5000</text>
<text transform="scale(0.9000,1)" x="153.20 189.97 226.52 263.08" y="623.50" font-size="62" font-family="Liberation Sans, Arial, Helvetica, sans-serif" fill="#262626" style="font-kerning:none">6000</text>
<text transform="scale(0.9000,1)" x="153.38 189.97 226.52 263.08" y="484.60" font-size="62" font-family="Liberation Sans, Arial, Helvetica, sans-serif" fill="#262626" style="font-kerning:none">7000</text>
<text transform="scale(0.9000,1)" x="153.41 189.97 226.52 263.08" y="345.60" font-size="62" font-family="Liberation Sans, Arial, Helvetica, sans-serif" fill="#262626" style="font-kerning:none">8000</text>
<text transform="scale(0.9000,1)" x="153.42 189.97 226.52 263.08" y="202.40" font-size="62" font-family="Liberation Sans, Arial, Helvetica, sans-serif" fill="#262626" style="font-kerning:none">9000</text>
<text transform="scale(0.9000,1)" x="107.45 144.85 173.39 189.97 226.52 263.08" y="62.90" font-size="62" font-family="Liberation Sans, Arial, Helvetica, sans-serif" fill="#262626" style="font-kerning:none">10,000</text>
<text transform="translate(920.94,1610.30) scale(0.9715,1)" font-size="62" font-family="Liberation Sans, Arial, Helvetica, sans-serif" fill="#262626" style="font-kerning:none">Calculated Vout (V)</text>
<text transform="translate(68.5,1140.44) rotate(-90) scale(0.9709,1)" font-size="62" font-family="Liberation Sans, Arial, Helvetica, sans-serif" fill="#262626" style="font-kerning:none">Methane concentration (PPM)</text>
<rect x="342" y="87" width="621.5" height="326.5" fill="#fff" stroke="#262626" stroke-width="4.0926"/>
<circle cx="438.3" cy="131.5" r="15.8" fill="none" stroke="#0072BD" stroke-width="3.5"/>
<circle cx="438.3" cy="209.5" r="15.8" fill="none" stroke="#D95319" stroke-width="3.5"/>
<line x1="356" y1="291" x2="524" y2="291" stroke="#0072BD" stroke-width="4.0926"/>
<line x1="356" y1="368.8" x2="524" y2="368.8" stroke="#D95319" stroke-width="4.0926"/>
<text x="532.4 566.3 599.5 654.6 666.4 711.2 755.6 772.9 790.0 823.6 856.1 880.7" y="153" font-size="62" font-family="Liberation Sans, Arial, Helvetica, sans-serif" fill="#262626" style="font-kerning:none">65% RH, 20°C</text>
<text x="533.1 566.3 599.5 654.6 666.4 711.2 755.6 772.9 788.6 823.6 856.1 880.7" y="234" font-size="62" font-family="Liberation Sans, Arial, Helvetica, sans-serif" fill="#262626" style="font-kerning:none">95% RH, 40°C</text>
<text x="532.8 563.5 596.8 615.6 650.1 670.8 703.0 733.1 769.9 790.9 821.2 839.6 874.1 896.1 934.0" y="312.5" font-size="62" font-family="Liberation Sans, Arial, Helvetica, sans-serif" fill="#262626" style="font-kerning:none">13.5 exp(1.9 x)</text>
<text x="531.1 563.4 582.2 616.7 638.5 670.7 699.7 737.5 754.9 789.4 814.7 851.6" y="394" font-size="62" font-family="Liberation Sans, Arial, Helvetica, sans-serif" fill="#262626" style="font-kerning:none">4.5 exp(2 x)</text>
</svg>
</body></html>
